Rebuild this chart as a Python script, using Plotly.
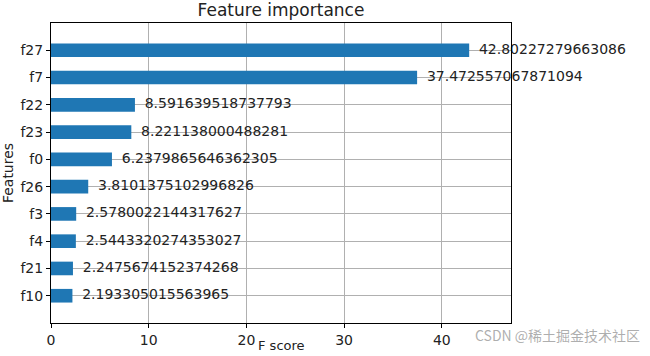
import plotly.graph_objects as go

features = ["f10", "f21", "f4", "f3", "f26", "f0", "f23", "f22", "f7", "f27"]
scores = [2.193305015563965, 2.2475674152374268, 2.5443320274353027, 2.5780022144317627,
          3.8101375102996826, 6.2379865646362305, 8.221138000488281, 8.591639518737793,
          37.472557067871094, 42.80227279663086]
labels = [str(v) for v in scores]
x_ticks = [0, 10, 20, 30, 40]

idx = list(range(len(features)))
font = "DejaVu Sans"
txt = "#222"

fig = go.Figure()
fig.add_trace(go.Bar(x=scores, y=idx, orientation="h", width=0.5,
                     marker=dict(color="#1f77b4", line=dict(width=0)), showlegend=False))
fig.add_trace(go.Scatter(x=[v + 1 for v in scores], y=idx, mode="text", text=labels,
                         textposition="middle right", cliponaxis=False,
                         textfont=dict(family=font, size=14, color=txt), showlegend=False))

fig.update_layout(
    width=650, height=356, margin=dict(l=51, r=139, t=23, b=33),
    paper_bgcolor="white", plot_bgcolor="white",
    title=dict(text="Feature importance", x=281 / 650, xanchor="center",
               y=1 - 10 / 356, yanchor="middle", font=dict(family=font, size=17, color=txt)),
    font=dict(family=font, size=14, color=txt),
)
fig.update_xaxes(range=[0, max(scores) * 1.1], tickvals=x_ticks, showgrid=True, gridcolor="#b0b0b0",
                 gridwidth=1, showline=True, linecolor="black", linewidth=1, mirror=True,
                 ticks="outside", ticklen=4, tickcolor="black", zeroline=False,
                 tickfont=dict(family=font, size=14, color=txt), automargin=False)
fig.update_yaxes(range=[-1, 10], tickvals=idx, ticktext=features, showgrid=True,
                 gridcolor="#b0b0b0", gridwidth=1, showline=True, linecolor="black", linewidth=1,
                 mirror=True, ticks="outside", ticklen=4, tickcolor="black", zeroline=False,
                 layer="above traces", tickfont=dict(family=font, size=14, color=txt),
                 title=dict(text="Features", standoff=4, font=dict(family=font, size=14, color=txt)),
                 automargin=False)
fig.add_annotation(text="F score", xref="paper", yref="paper", x=0.5, y=-0.108,
                   xanchor="center", yanchor="bottom", showarrow=False,
                   font=dict(family=font, size=13, color=txt))
fig.add_annotation(text="CSDN @稀土掘金技术社区", xref="paper", yref="paper", x=1.285, y=-0.04,
                   xanchor="right", yanchor="middle", showarrow=False,
                   font=dict(family="Noto Sans CJK SC", size=14, color="rgba(120,120,120,0.6)"))
fig.write_html("out.html")
